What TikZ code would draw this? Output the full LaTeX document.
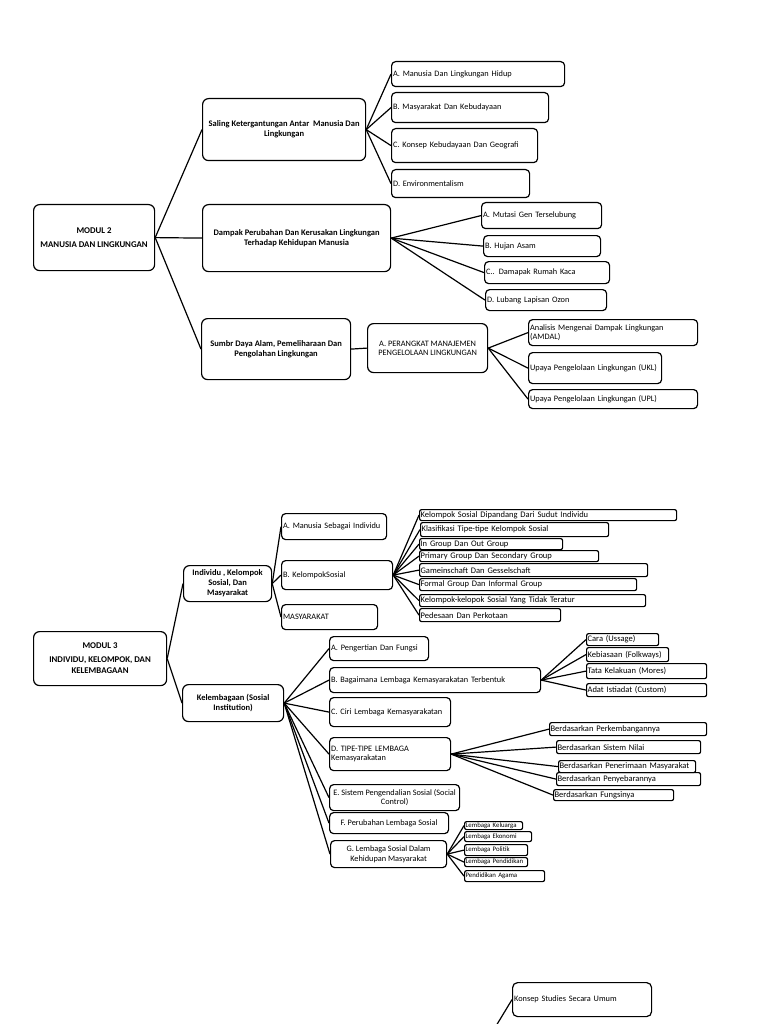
\documentclass[tikz,border=0pt]{standalone}
\usepackage{fontspec}
\setmainfont{Carlito}

\begin{document}
\begin{tikzpicture}[x=1pt, y=-1pt, line width=1.2pt, line join=round,
    modbox/.style={draw, rounded corners=6pt, anchor=north west, align=center, inner sep=1pt,
                   font=\bfseries\fontsize{8.8}{11.5}\selectfont},
    headbox/.style={draw, rounded corners=6pt, anchor=north west, align=center, inner sep=1pt,
                    font=\bfseries\fontsize{8.5}{10}\selectfont},
    subbox/.style={draw, rounded corners=4pt, anchor=north west, align=left, inner xsep=1.5pt, inner ysep=1pt,
                   font=\fontsize{8.3}{9.5}\selectfont},
    subc/.style={subbox, align=center},
    tinybox/.style={draw, rounded corners=2pt, anchor=north west, align=left, inner xsep=1pt, inner ysep=0pt,
                    font=\fontsize{8.5}{9}\selectfont},
    gbox/.style={tinybox, font=\fontsize{6.8}{7}\selectfont},
    link/.style={line width=1.2pt}]
\useasboundingbox (0,0) rectangle (768,1024);

% ---- modul 2 ----
\node[modbox, minimum width=121pt, minimum height=66pt] (mod2) at (33,204) {MODUL 2\\[3pt]MANUSIA DAN LINGKUNGAN};
\node[headbox, minimum width=163pt, minimum height=62pt] (sal) at (202,98) {Saling Ketergantungan Antar\ \ Manusia Dan\\Lingkungan};
\node[headbox, minimum width=188pt, minimum height=67pt] (dam) at (202,204) {Dampak Perubahan Dan Kerusakan Lingkungan\\Terhadap Kehidupan Manusia};
\node[headbox, minimum width=149pt, minimum height=61pt] (sum) at (201,318) {Sumbr Daya Alam, Pemeliharaan Dan\\Pengolahan Lingkungan};
\node[subc, minimum width=120pt, minimum height=49pt, rounded corners=6pt] (per) at (367,323) {A. PERANGKAT MANAJEMEN\\PENGELOLAAN LINGKUNGAN};

\node[subbox, text width=170pt, minimum height=25pt] (a1) at (391,61) {A. Manusia Dan Lingkungan Hidup};
\node[subbox, text width=154pt, minimum height=30pt] (b1) at (391,92) {B. Masyarakat Dan Kebudayaan};
\node[subbox, text width=143pt, minimum height=34pt] (c1) at (391,128) {C. Konsep Kebudayaan Dan Geografi};
\node[subbox, text width=135pt, minimum height=28pt] (d1) at (391,169) {D. Environmentalism};

\node[subbox, text width=117pt, minimum height=26pt] (a2) at (481,202) {A. Mutasi Gen Terselubung};
\node[subbox, text width=114pt, minimum height=21pt] (b2) at (483,235) {B. Hujan Asam};
\node[subbox, text width=122pt, minimum height=22pt] (c2) at (484,261) {C.. Damapak Rumah Kaca};
\node[subbox, text width=118pt, minimum height=21pt] (d2) at (485,289) {D. Lubang Lapisan Ozon};

\node[subbox, text width=166pt, minimum height=26pt] (amdal) at (528,319) {Analisis Mengenai Dampak Lingkungan\\(AMDAL)};
\node[subbox, text width=130pt, minimum height=31pt] (ukl) at (528,352) {Upaya Pengelolaan Lingkungan (UKL)};
\node[subbox, text width=166pt, minimum height=19pt] (upl) at (528,389) {Upaya Pengelolaan Lingkungan (UPL)};

\foreach \t in {sal,dam,sum} \draw[link] (mod2.east) -- (\t.west);
\foreach \t in {a1,b1,c1,d1} \draw[link] (sal.east) -- (\t.west);
\foreach \t in {a2,b2,c2,d2} \draw[link] (dam.east) -- (\t.west);
\draw[link] (sum.east) -- (per.west);
\foreach \t in {amdal,ukl,upl} \draw[link] (per.east) -- (\t.west);

% ---- modul 3 ----
\node[modbox, minimum width=133pt, minimum height=54pt] (mod3) at (33,631) {MODUL 3\\[2pt]INDIVIDU, KELOMPOK, DAN\\KELEMBAGAAN};
\node[headbox, minimum width=88pt, minimum height=36pt] (ind) at (183,565) {Individu , Kelompok\\Sosial, Dan\\Masyarakat};
\node[headbox, minimum width=101pt, minimum height=37pt] (kel) at (182,684) {Kelembagaan (Sosial\\Institution)};

\node[subbox, text width=102pt, minimum height=26pt] (ms) at (281,513) {A. Manusia Sebagai Individu};
\node[subbox, text width=108pt, minimum height=29pt] (ks) at (281,560) {B. KelompokSosial};
\node[subbox, text width=93pt, minimum height=25pt] (mas) at (281,604) {MASYARAKAT};

\node[tinybox, text width=255pt, minimum height=11pt] (k1) at (419,509) {Kelompok Sosial Dipandang Dari Sudut Individu};
\node[tinybox, text width=186pt, minimum height=14pt] (k2) at (420,522) {Klasifikasi Tipe-tipe Kelompok Sosial};
\node[tinybox, text width=141pt, minimum height=11pt] (k3) at (419,538) {In Group Dan Out Group};
\node[tinybox, text width=177pt, minimum height=11pt] (k4) at (419,550) {Primary Group Dan Secondary Group};
\node[tinybox, text width=226pt, minimum height=13pt] (k5) at (419,563) {Gameinschaft Dan Gesselschaft};
\node[tinybox, text width=215pt, minimum height=12pt] (k6) at (419,578) {Formal Group Dan Informal Group};
\node[tinybox, text width=224pt, minimum height=12pt] (k7) at (419,594) {Kelompok-kelopok Sosial Yang Tidak Teratur};
\node[tinybox, text width=139pt, minimum height=13pt] (k8) at (419,608) {Pedesaan Dan Perkotaan};

\node[subbox, text width=96pt, minimum height=24pt] (la) at (329,636) {A. Pengertian Dan Fungsi};
\node[subbox, text width=208pt, minimum height=25pt] (lb) at (329,667) {B. Bagaimana Lembaga Kemasyarakatan Terbentuk};
\node[subbox, text width=118pt, minimum height=29pt] (lc) at (329,697) {C. Ciri Lembaga Kemasyarakatan};
\node[subbox, text width=118pt, minimum height=33pt] (ld) at (329,737) {D. TIPE-TIPE LEMBAGA\\Kemasyarakatan};
\node[subc, minimum width=130pt, minimum height=26pt] (le) at (329,784) {E. Sistem Pengendalian Sosial (Social\\Control)};
\node[subc, minimum width=119pt, minimum height=21pt] (lf) at (329,812) {F. Perubahan Lembaga Sosial};
\node[subc, minimum width=116pt, minimum height=27pt] (lg) at (330,840) {G. Lembaga Sosial Dalam\\Kehidupan Masyarakat};

\node[tinybox, text width=70pt, minimum height=12pt] (cara) at (586,633) {Cara (Ussage)};
\node[tinybox, text width=80pt, minimum height=14pt] (keb) at (586,647) {Kebiasaan (Folkways)};
\node[tinybox, text width=118pt, minimum height=15pt] (tata) at (586,663) {Tata Kelakuan (Mores)};
\node[tinybox, text width=118pt, minimum height=13pt] (adat) at (586,683) {Adat Istiadat (Custom)};

\node[tinybox, text width=155pt, minimum height=13pt] (p1) at (549,722) {Berdasarkan Perkembangannya};
\node[tinybox, text width=142pt, minimum height=13pt] (p2) at (556,740) {Berdasarkan Sistem Nilai};
\node[tinybox, text width=135pt, minimum height=12pt] (p3) at (558,760) {Berdasarkan Penerimaan Masyarakat};
\node[tinybox, text width=142pt, minimum height=13pt] (p4) at (556,772) {Berdasarkan Penyebarannya};
\node[tinybox, text width=118pt, minimum height=11pt] (p5) at (553,789) {Berdasarkan Fungsinya};

\node[gbox, text width=56pt, minimum height=8pt] (g1) at (464,821) {\mbox{Lembaga Keluarga}};
\node[gbox, text width=65pt, minimum height=10pt] (g2) at (464,831) {\mbox{Lembaga Ekonomi}};
\node[gbox, text width=61pt, minimum height=11pt] (g3) at (464,844) {\mbox{Lembaga Politik}};
\node[gbox, text width=61pt, minimum height=9pt] (g4) at (464,857) {\mbox{Lembaga Pendidikan}};
\node[gbox, text width=78pt, minimum height=11pt] (g5) at (464,870) {\mbox{Pendidikan Agama}};

\foreach \t in {ind,kel} \draw[link] (mod3.east) -- (\t.west);
\foreach \t in {ms,ks,mas} \draw[link] (ind.east) -- (\t.west);
\foreach \t in {k1,k2,k3,k4,k5,k6,k7,k8} \draw[link] (ks.east) -- (\t.west);
\foreach \t in {la,lb,lc,ld,le,lf,lg} \draw[link] (kel.east) -- (\t.west);
\foreach \t in {cara,keb,tata,adat} \draw[link] (lb.east) -- (\t.west);
\foreach \t in {p1,p2,p3,p4,p5} \draw[link] (ld.east) -- (\t.west);
\foreach \t in {g1,g2,g3,g4,g5} \draw[link] (lg.east) -- (\t.west);

% ---- next modul (cut off) ----
\node[subbox, text width=136pt, minimum height=34pt, rounded corners=5pt] (kon) at (512,982) {Konsep Studies Secara Umum};
\coordinate (kon-in) at (496,1026);
\draw[link] (kon.west) -- (kon-in);
\end{tikzpicture}
\end{document}
